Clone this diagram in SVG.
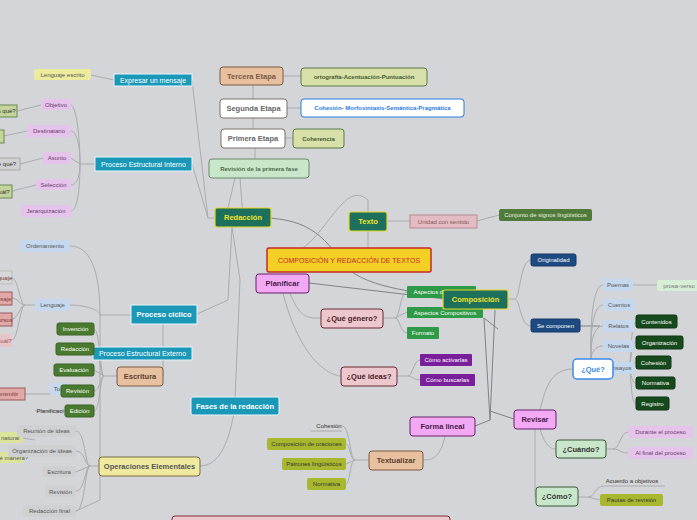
<svg xmlns="http://www.w3.org/2000/svg" width="697" height="520" viewBox="0 0 697 520" fill="#555">
<style>
text{font-family:"Liberation Sans",Arial,sans-serif;text-anchor:middle;dominant-baseline:central}
.c path{fill:none;stroke:#a9abae;stroke-width:1}
.c .d{stroke:#7f8286}
.s{font-size:6px}
.m{font-size:7px;fill:#fff}
.b{font-size:7.5px;font-weight:bold}
.teal{fill:#1a98b8;stroke:#e8f6fa;stroke-width:1}
.dg{fill:#1c705c;stroke:#e6d82a;stroke-width:1.2}
.pk{fill:#f2a8f2;stroke:#6a1f6a;stroke-width:1}
.rose{fill:#ecc7cd;stroke:#6a2a36;stroke-width:1}
.pe{fill:#e7c09f;stroke:#7a5b42;stroke-width:1}
.gb{fill:#4a7a30;stroke:#3b6226}
.lb{fill:#c5d8ee}
.lv{fill:#e6c3ea}
.lg{fill:#cfd0d2}
.db{fill:#1d4a80;stroke:#17396a}
.dk{fill:#164a1c;stroke:#0f3513}
.gr{fill:#2e9a48}
.pu{fill:#7a1f9c}
.yg{fill:#a8b82e}
</style>
<rect width="697" height="520" fill="#d4d5d8"/>
<g class="c">
<path d="M243 218 C300 215 320 230 340 260 C360 290 420 290 445 299" class="d"/>
<path d="M243 217 L240 178 M255 159 L255 148 M253 129 L253 118 M253 99 L253 85 M283 76 L301 76 M287 108 L301 108 M285 138 L293 138"/>
<path d="M235 178 L228 208"/>
<path d="M215 218 L208 218 L192 80 M208 218 L192 164"/>
<path d="M114 80 L91 75"/>
<path d="M95 164 L80 164 M80 164 C80 130 75 105 71 105 M80 164 C80 140 75 131 71 131 M80 164 L71 158 M80 164 C80 180 75 185 71 185 M80 164 C80 200 75 211 71 211"/>
<path d="M41 105 L17 111 M27 131 L4 136 M43 158 L20 164 M36 185 L12 191"/>
<path d="M232 227 L228 300 L197 314 M232 227 L240 280 L235 400"/>
<path d="M131 315 L100 315 M100 315 C100 270 90 246 70 246 M100 315 C100 310 85 305 70 305 M100 315 L100 500 M100 500 L76 511"/>
<path d="M35 305 L25 305 C20 305 18 278 12 278 M25 305 C20 305 18 298 12 298 M25 305 C20 305 18 319 12 319 M25 305 C20 305 18 340 12 340"/>
<path d="M163 376 L163 324 M117 376 L104 376 M104 376 C100 376 100 329 94 329 M104 376 C100 376 100 349 94 349 M104 376 L94 370 M104 376 C100 376 100 391 94 391 M104 376 C100 376 100 411 94 411"/>
<path d="M25 394 L50 394 M65 411 L35 411"/>
<path d="M235 406 C230 440 220 466 200 466 M99 466 L90 466 M90 466 C85 466 85 431 76 431 M90 466 C85 466 85 451 76 451 M90 466 L76 472 M90 466 C85 466 85 491 76 491 M90 466 C85 466 85 511 76 511 M23 438 L35 440 M23 457 L35 455"/>
<path d="M368 212 L368 200 C345 180 330 230 300 250 M368 231 L368 248 M387 221 L410 221 M477 221 L499 215"/>
<path d="M309 283 L445 299" class="d"/>
<path d="M290 293 C300 320 310 318 321 318 M283 293 C300 360 330 376 341 376"/>
<path d="M383 318 L395 318 C400 318 400 292 407 292 M395 318 L407 312 M395 318 C400 318 400 333 407 333"/>
<path d="M397 376 L408 376 C412 376 414 360 420 360 M408 376 C412 376 414 380 420 380"/>
<path d="M508 299 L515 299 C520 299 520 260 531 260 M515 299 C520 299 520 326 531 326"/>
<path d="M580 326 L600 326" class="d"/>
<path d="M593 368 C590 368 588 285 603 285 L657 285 M593 368 C590 368 588 305 603 305 M593 368 C590 368 588 326 603 326 M593 368 C590 368 588 346 603 346 M593 368 L612 368"/>
<path d="M628 368 C632 368 630 322 636 322 M628 368 C632 368 630 342 636 342 M628 368 L636 362 M628 368 C632 368 630 383 636 383 M628 368 C632 368 630 404 636 404"/>
<path d="M573 369 C550 369 545 390 540 410"/>
<path d="M490 411 L514 419 M475 426 L490 420 L495 310 M490 420 L484 318 L498 329" class="d"/>
<path d="M445 436 C440 460 430 460 423 460 M369 460 L355 460 M355 460 C350 460 350 426 342 426 M355 460 C350 460 350 444 346 444 M355 460 L346 464 M355 460 C350 460 350 484 346 484 M310 431 L342 431"/>
<path d="M540 429 C545 445 550 449 556 449 M535 429 L535 497 L536 497 M606 449 L613 449 C620 449 620 432 628 432 M613 449 C620 449 620 453 628 453 M578 497 L588 497 C595 497 595 486 604 486 L665 486 M588 497 L600 500"/>
</g>
<g id="n-center"><rect x="267" y="248" width="164" height="24" rx="2" fill="#f5d024" stroke="#c2282c" stroke-width="1.5"/><text x="349" y="260" font-size="7" fill="#c2282c">COMPOSICIÓN Y REDACCIÓN DE TEXTOS</text></g>
<g id="n-redaccion"><rect x="215" y="208" width="56" height="19" rx="2" class="dg"/><text x="243" y="217.5" class="b" fill="#f2e52a">Redacción</text></g>
<g id="n-texto"><rect x="349" y="212" width="38" height="19" rx="2" class="dg"/><text x="368" y="221.5" class="b" fill="#f2e52a">Texto</text></g>
<g id="n-unidad"><rect x="410" y="215" width="67" height="13" fill="#e2bcc2" stroke="#b58a92"/><text x="443.5" y="221.5" class="s" fill="#8a5560">Unidad con sentido</text></g>
<g id="n-conjunto"><rect x="499" y="209" width="93" height="12" rx="2" fill="#4f7a3a"/><text x="545.5" y="215" class="s" fill="#e8f0e0">Conjunto de signos lingüísticos</text></g>
<g id="n-tercera"><rect x="220" y="67" width="63" height="18" rx="3" class="pe"/><text x="251.5" y="76" class="b" fill="#7a5b42" font-size="7">Tercera Etapa</text></g>
<g id="n-orto"><rect x="301" y="68" width="126" height="18" rx="3" fill="#d6e0a8" stroke="#5a7a48" stroke-width="1"/><text x="364" y="77" font-size="6" font-weight="bold" fill="#445a30">ortografía-Acentuación-Puntuación</text></g>
<g id="n-segunda"><rect x="220" y="99" width="67" height="19" rx="3" fill="#fff" stroke="#7a7066" stroke-width="1"/><text x="253.5" y="108.5" class="b" fill="#666" font-size="7">Segunda Etapa</text></g>
<g id="n-cohesion"><rect x="301" y="99" width="163" height="18" rx="3" fill="#fff" stroke="#2a7ae0" stroke-width="1"/><text x="382.5" y="108" font-size="6" font-weight="bold" fill="#2a7ae0">Cohesión- Morfosintaxis-Semántica-Pragmática</text></g>
<g id="n-primera"><rect x="221" y="129" width="64" height="19" rx="3" fill="#fff" stroke="#7a7066" stroke-width="1"/><text x="253" y="138.5" class="b" fill="#666" font-size="7">Primera Etapa</text></g>
<g id="n-coherencia"><rect x="293" y="129" width="51" height="19" rx="3" fill="#d6e0a8" stroke="#5a7a48" stroke-width="1"/><text x="318.5" y="138.5" font-size="6" font-weight="bold" fill="#445a30">Coherencia</text></g>
<g id="n-revfase"><rect x="209" y="159" width="100" height="19" rx="3" fill="#c8e6c9" stroke="#6a8a6a" stroke-width="1"/><text x="259" y="168.5" font-size="6" font-weight="bold" fill="#4a6a4a">Revisión de la primera fase</text></g>
<g id="n-expresar"><rect x="114" y="74" width="78" height="12" class="teal"/><text x="153" y="80" class="m">Expresar un mensaje</text></g>
<g id="n-lenguajeesc"><rect x="34" y="69" width="57" height="11" rx="2" fill="#ecec9c"/><text x="62.5" y="74.5" class="s">Lenguaje escrito</text></g>
<g id="n-pei"><rect x="95" y="157" width="97" height="14" class="teal"/><text x="143.5" y="164" class="m">Proceso Estructural Interno</text></g>
<g id="n-objetivo"><rect x="41" y="99" width="30" height="11" rx="2" class="lv"/><text x="56" y="104.5" class="s" fill="#6a3a70">Objetivo</text></g>
<g id="n-destinatario"><rect x="27" y="125" width="44" height="12" rx="2" class="lv"/><text x="49" y="131" class="s" fill="#6a3a70">Destinatario</text></g>
<g id="n-asunto"><rect x="43" y="152" width="28" height="12" rx="2" class="lv"/><text x="57" y="158" class="s" fill="#6a3a70">Asunto</text></g>
<g id="n-seleccion"><rect x="36" y="179" width="35" height="11" rx="2" class="lv"/><text x="53.5" y="184.5" class="s" fill="#6a3a70">Selección</text></g>
<g id="n-jerarquizacion"><rect x="21" y="205" width="50" height="12" rx="2" class="lv"/><text x="46" y="211" class="s" fill="#6a3a70">Jerarquización</text></g>
<g id="n-paraque"><rect x="-20" y="105" width="37" height="12" fill="#c4d49a" stroke="#6a8a50"/><text x="0" y="111" class="s" fill="#333">¿Para qué?</text></g>
<g id="n-quien"><rect x="-20" y="130" width="24" height="13" fill="#c4d49a" stroke="#6a8a50"/></g>
<g id="n-deque"><rect x="-20" y="158" width="40" height="12" fill="#d0d0d0" stroke="#aaa"/><text x="3" y="164" class="s" fill="#333">¿De qué?</text></g>
<g id="n-cual"><rect x="-20" y="185" width="32" height="13" fill="#c4d49a" stroke="#6a8a50"/><text x="0" y="191.5" class="s" fill="#333">¿Cuál?</text></g>
<g id="n-ordenamiento"><rect x="20" y="240" width="50" height="12" rx="2" class="lb"/><text x="45" y="246" class="s">Ordenamiento</text></g>
<g id="n-lenguaje"><rect x="35" y="299" width="35" height="12" rx="2" class="lb"/><text x="52.5" y="305" class="s">Lenguaje</text></g>
<g id="n-l1"><rect x="-20" y="271" width="32" height="13" fill="#d6d6d6" stroke="#bbb"/><text x="0" y="277.5" class="s" fill="#7a3a3a">Lenguaje</text></g>
<g id="n-l2"><rect x="-20" y="292" width="32" height="13" fill="#e2a8a8" stroke="#9a5a5a"/><text x="0" y="298.5" class="s" fill="#7a3a3a">Mensaje</text></g>
<g id="n-l3"><rect x="-20" y="313" width="32" height="13" fill="#e2a8a8" stroke="#9a5a5a"/><text x="0" y="319.5" class="s" fill="#7a3a3a">Recursos</text></g>
<g id="n-l4"><rect x="-20" y="334" width="32" height="13" fill="#e8c4c8"/><text x="2" y="340.5" class="s" fill="#9a5a5a">¿Cuál?</text></g>
<g id="n-ciclico"><rect x="131" y="305" width="66" height="19" class="teal"/><text x="164" y="314.5" class="b" fill="#fff" font-size="7">Proceso cíclico</text></g>
<g id="n-pee"><rect x="93" y="347" width="99" height="13" class="teal"/><text x="142.5" y="353.5" class="m">Proceso Estructural Externo</text></g>
<g id="n-to"><rect x="50" y="383" width="18" height="12" rx="2" class="lb"/><text x="57" y="389" class="s">To</text></g>
<g id="n-transmitir"><rect x="-20" y="388" width="45" height="12" fill="#e2a8a8" stroke="#9a5a5a"/><text x="5" y="394" class="s" fill="#7a3a3a">Transmitir</text></g>
<text x="50" y="411" class="s" fill="#333">Planificaci</text>
<g id="n-invencion"><rect x="57" y="323" width="37" height="12" rx="2" class="gb"/><text x="75.5" y="329" class="s" fill="#fff">Invención</text></g>
<g id="n-redaccion2"><rect x="56" y="343" width="38" height="12" rx="2" class="gb"/><text x="75" y="349" class="s" fill="#fff">Redacción</text></g>
<g id="n-evaluacion"><rect x="54" y="364" width="40" height="12" rx="2" class="gb"/><text x="74" y="370" class="s" fill="#fff">Evaluación</text></g>
<g id="n-revision"><rect x="61" y="385" width="33" height="12" rx="2" class="gb"/><text x="77.5" y="391" class="s" fill="#fff">Revisión</text></g>
<g id="n-edicion"><rect x="65" y="405" width="29" height="12" rx="2" class="gb"/><text x="79.5" y="411" class="s" fill="#fff">Edición</text></g>
<g id="n-escritura"><rect x="117" y="367" width="46" height="19" rx="3" class="pe"/><text x="140" y="376.5" class="b" fill="#5a4030" font-size="7">Escritura</text></g>
<g id="n-fases"><rect x="191" y="397" width="88" height="18" rx="2" class="teal"/><text x="235" y="406" class="b" fill="#fff" font-size="6.5">Fases de la redacción</text></g>
<g id="n-natural"><rect x="-20" y="432" width="43" height="11" fill="#dce49c"/><text x="4" y="437.5" class="s">¿Es natural</text></g>
<g id="n-manera"><rect x="-20" y="452" width="43" height="11" fill="#dce49c"/><text x="4" y="457.5" class="s">¿De qué manera?</text></g>
<g id="n-operaciones"><rect x="99" y="457" width="101" height="19" rx="3" fill="#f0eaa0" stroke="#7a6a40" stroke-width="1"/><text x="149.5" y="466.5" class="b" fill="#555" font-size="6.5">Operaciones Elementales</text></g>
<g id="n-reunion"><rect x="17" y="425" width="59" height="12" rx="2" class="lg"/><text x="46.5" y="431" class="s">Reunión de ideas</text></g>
<g id="n-organizacion"><rect x="8" y="445" width="68" height="12" rx="2" class="lg"/><text x="42" y="451" class="s">Organización de ideas</text></g>
<g id="n-escritura2"><rect x="42" y="466" width="34" height="11" rx="2" class="lg"/><text x="59" y="471.5" class="s">Escritura</text></g>
<g id="n-revision2"><rect x="45" y="486" width="31" height="11" rx="2" class="lg"/><text x="60.5" y="491.5" class="s">Revisión</text></g>
<g id="n-redfinal"><rect x="23" y="505" width="53" height="12" rx="2" class="lg"/><text x="49.5" y="511" class="s">Redacción final</text></g>
<g id="n-planificar"><rect x="256" y="274" width="53" height="19" rx="3" class="pk"/><text x="282.5" y="283.5" class="b" fill="#4a1a4a">Planificar</text></g>
<g id="n-genero"><rect x="321" y="309" width="62" height="19" rx="3" class="rose"/><text x="352" y="318.5" class="b" fill="#4a1a24" font-size="6.5">¿Qué género?</text></g>
<g id="n-adisc"><rect x="407" y="286" width="69" height="12" rx="1" class="gr"/><text x="441.5" y="292" class="s" fill="#fff">Aspectos discursivos</text></g>
<g id="n-acomp"><rect x="407" y="307" width="76" height="11" rx="1" class="gr"/><text x="445" y="312.5" class="s" fill="#fff">Aspectos Compositivos</text></g>
<g id="n-formato"><rect x="407" y="327" width="32" height="12" rx="1" class="gr"/><text x="423" y="333" class="s" fill="#fff">Formato</text></g>
<g id="n-composicion"><rect x="443" y="290" width="65" height="19" rx="2" class="dg"/><text x="475.5" y="299.5" class="b" fill="#f2e52a">Composición</text></g>
<g id="n-ideas"><rect x="341" y="367" width="56" height="19" rx="3" class="rose"/><text x="369" y="376.5" class="b" fill="#4a1a24" font-size="6.5">¿Qué ideas?</text></g>
<g id="n-activar"><rect x="420" y="354" width="52" height="12" rx="1" class="pu"/><text x="446" y="360" class="s" fill="#fff">Cómo activarlas</text></g>
<g id="n-buscar"><rect x="420" y="374" width="55" height="12" rx="1" class="pu"/><text x="447.5" y="380" class="s" fill="#fff">Cómo buscarlas</text></g>
<g id="n-original"><rect x="531" y="254" width="45" height="12" rx="2" class="db"/><text x="553.5" y="260" class="s" fill="#fff">Originalidad</text></g>
<g id="n-secomp"><rect x="531" y="319" width="49" height="13" rx="2" class="db"/><text x="555.5" y="325.5" class="s" fill="#fff">Se componen</text></g>
<g id="n-poemas"><rect x="603" y="279" width="30" height="12" rx="2" class="lb"/><text x="618" y="285" class="s">Poemas</text></g>
<g id="n-prosa"><rect x="657" y="280" width="45" height="11" rx="2" fill="#d6eed6"/><text x="679" y="285.5" class="s" fill="#777">prosa-verso</text></g>
<g id="n-cuentos"><rect x="603" y="299" width="32" height="12" rx="2" class="lb"/><text x="619" y="305" class="s">Cuentos</text></g>
<g id="n-relatos"><rect x="603" y="320" width="31" height="12" rx="2" class="lb"/><text x="618.5" y="326" class="s">Relatos</text></g>
<g id="n-novelas"><rect x="603" y="340" width="31" height="12" rx="2" class="lb"/><text x="618.5" y="346" class="s">Novelas</text></g>
<g id="n-ensayos"><rect x="605" y="362" width="29" height="12" rx="2" class="lb"/><text x="620" y="368" class="s">Ensayos</text></g>
<g id="n-contenidos"><rect x="636" y="315" width="41" height="13" rx="2" class="dk"/><text x="656.5" y="321.5" class="s" fill="#fff">Contenidos</text></g>
<g id="n-organiz"><rect x="636" y="336" width="47" height="13" rx="2" class="dk"/><text x="659.5" y="342.5" class="s" fill="#fff">Organización</text></g>
<g id="n-cohes"><rect x="636" y="356" width="35" height="13" rx="2" class="dk"/><text x="653.5" y="362.5" class="s" fill="#fff">Cohesión</text></g>
<g id="n-normativa"><rect x="636" y="377" width="39" height="12" rx="2" class="dk"/><text x="655.5" y="383" class="s" fill="#fff">Normativa</text></g>
<g id="n-registro"><rect x="636" y="397" width="33" height="13" rx="2" class="dk"/><text x="652.5" y="403.5" class="s" fill="#fff">Registro</text></g>
<g id="n-que"><rect x="573" y="359" width="40" height="20" rx="4" fill="#fff" stroke="#3a8ae8" stroke-width="1.5"/><text x="593" y="369" class="b" fill="#3a8ae8" font-size="7">¿Qué?</text></g>
<g id="n-revisar"><rect x="514" y="410" width="42" height="19" rx="3" class="pk"/><text x="535" y="419.5" class="b" fill="#4a1a4a" font-size="7">Revisar</text></g>
<g id="n-cuando"><rect x="556" y="440" width="50" height="18" rx="3" fill="#c8e6c9" stroke="#3a5a3a" stroke-width="1"/><text x="581" y="449" class="b" fill="#333" font-size="6.5">¿Cuándo?</text></g>
<g id="n-durante"><rect x="628" y="426" width="65" height="12" rx="2" class="lv"/><text x="660.5" y="432" class="s" fill="#6a3a70">Durante el proceso</text></g>
<g id="n-alfinal"><rect x="628" y="447" width="65" height="12" rx="2" class="lv"/><text x="660.5" y="453" class="s" fill="#6a3a70">Al final del proceso</text></g>
<g id="n-como"><rect x="536" y="487" width="42" height="19" rx="3" fill="#c8e6c9" stroke="#3a5a3a" stroke-width="1"/><text x="557" y="496.5" class="b" fill="#333" font-size="6.5">¿Cómo?</text></g>
<text x="632" y="481" class="s" fill="#333">Acuerdo a objetivos</text>
<g id="n-pautas"><rect x="600" y="494" width="63" height="12" rx="2" class="yg"/><text x="631.5" y="500" class="s" fill="#333">Pautas de revisión</text></g>
<g id="n-formalineal"><rect x="410" y="417" width="65" height="19" rx="3" class="pk"/><text x="442.5" y="426.5" class="b" fill="#4a1a4a" font-size="7">Forma lineal</text></g>
<g id="n-textualizar"><rect x="369" y="451" width="54" height="19" rx="3" class="pe"/><text x="396" y="460.5" class="b" fill="#5a4030" font-size="7">Textualizar</text></g>
<text x="329" y="426" class="s" fill="#333">Cohesión</text>
<g id="n-compor"><rect x="267" y="438" width="79" height="12" rx="2" class="yg"/><text x="306.5" y="444" class="s" fill="#333">Composición de oraciones</text></g>
<g id="n-patrones"><rect x="282" y="458" width="64" height="12" rx="2" class="yg"/><text x="314" y="464" class="s" fill="#333">Patrones lingüísticos</text></g>
<g id="n-normativa2"><rect x="307" y="478" width="39" height="12" rx="2" class="yg"/><text x="326.5" y="484" class="s" fill="#333">Normativa</text></g>
<g id="n-bottom"><rect x="172" y="516" width="278" height="14" rx="3" fill="#ecc7cd" stroke="#8a2a3a" stroke-width="1"/></g>
</svg>
